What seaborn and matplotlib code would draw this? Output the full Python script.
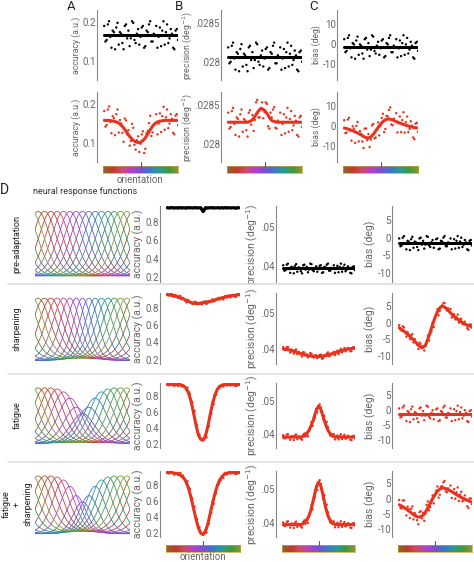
import numpy as np
import pandas as pd
import seaborn as sns
import matplotlib.pyplot as plt
from matplotlib.colors import LinearSegmentedColormap

sns.set_style('white')
plt.rcParams['font.family'] = ['Roboto', 'DejaVu Sans']
TXT = '#666666'

# ---- data ----
orient = list(range(-90, 91, 6))          # 31 orientations for the fits
orient_b = [o + 3 for o in orient]         # second set of sample orientations
resid_a = [0.6, -0.3, 0.9, -0.8, 0.2, 0.5, -0.6, 0.1, -0.9, 0.7, 0.3, -0.2, 0.8, -0.5, 0.4, -0.1,
           0.6, -0.7, 0.2, 0.9, -0.4, 0.0, -0.8, 0.5, 0.3, -0.6, 0.7, -0.2, 0.1, -0.9, 0.4]
resid_b = [-0.4, 0.7, -0.1, 0.3, -0.9, 0.8, 0.2, -0.5, 0.6, -0.2, -0.7, 0.9, -0.3, 0.1, -0.6, 0.5,
           -0.8, 0.3, 0.7, -0.4, 0.1, 0.6, -0.1, -0.7, 0.9, 0.2, -0.5, 0.4, -0.8, 0.3, -0.3]

# top panels (A, B, C): baseline fit and adapted fit
acc_top_pre = [0.165] * 31
acc_top_ad = [.157, .157, .157, .156, .155, .153, .150, .145, .138, .129, .120, .112, .106, .102, .100, .101,
              .105, .112, .122, .133, .142, .149, .153, .155, .156, .157, .157, .157, .157, .157, .157]
prec_top_pre = [0.02807] * 31
prec_top_ad = [.02828, .02828, .02828, .02828, .02828, .02828, .02828, .02828, .02828, .02829, .02831,
               .02835, .02840, .02844, .02845, .02843, .02839, .02834, .02830, .02829, .02828, .02828,
               .02828, .02828, .02828, .02828, .02828, .02828, .02828, .02828, .02828]
bias_top_pre = [-1.5] * 31
bias_top_ad = [-1.0, -1.3, -1.7, -2.1, -2.6, -3.2, -3.8, -4.5, -5.2, -5.8, -6.0, -5.5, -4.2, -2.5, -0.8, 0.8,
               2.2, 3.1, 3.5, 3.4, 3.0, 2.5, 2.0, 1.5, 1.0, 0.6, 0.2, -0.2, -0.5, -0.8, -1.0]
top_noise = [0.04, 0.04, 0.0002, 0.0002, 6.5, 6.5]

# bottom panels (D): rows pre-adaptation, sharpening, fatigue, fatigue + sharpening
acc_pre = [0.95] * 15 + [0.91] + [0.95] * 15
acc_sharp = [.95, .95, .94, .94, .93, .92, .91, .90, .88, .87, .86, .85, .85, .85, .85, .86,
             .86, .87, .87, .88, .89, .90, .91, .91, .92, .93, .93, .94, .94, .95, .95]
acc_fat = [.95, .95, .95, .95, .95, .95, .94, .93, .90, .84, .74, .60, .45, .32, .26, .25,
           .30, .42, .57, .71, .82, .89, .93, .94, .95, .95, .95, .95, .95, .95, .95]
acc_fs = [.95, .95, .95, .94, .94, .93, .91, .88, .83, .75, .64, .51, .38, .27, .20, .18,
          .22, .31, .44, .57, .69, .79, .86, .90, .93, .94, .95, .95, .95, .95, .95]
prec_pre = [0.0393] * 31
prec_sharp = [.0400, .0399, .0398, .0396, .0394, .0392, .0390, .0388, .0386, .0384, .0382, .0381, .0380,
              .0380, .0379, .0379, .0379, .0380, .0381, .0383, .0385, .0387, .0389, .0391, .0393, .0395,
              .0397, .0399, .0400, .0401, .0402]
prec_fat = [.0391, .0391, .0391, .0391, .0391, .0391, .0391, .0391, .0392, .0395, .0401, .0412, .0428,
            .0448, .0472, .0485, .0475, .0452, .0430, .0412, .0400, .0394, .0392, .0391, .0391, .0391,
            .0391, .0391, .0391, .0391, .0391]
prec_fs = [.0395, .0395, .0395, .0395, .0395, .0395, .0395, .0395, .0396, .0400, .0408, .0422, .0444,
           .0475, .0505, .0522, .0510, .0480, .0447, .0422, .0406, .0398, .0396, .0395, .0395, .0395,
           .0395, .0395, .0395, .0395, .0395]
bias_pre = [-1.5] * 31
bias_sharp = [-1.5, -2.0, -2.6, -3.2, -3.8, -4.5, -5.2, -6.0, -6.8, -7.4, -7.5, -6.8, -5.0, -2.8, -0.5, 1.6,
              3.3, 4.5, 5.0, 4.8, 4.2, 3.4, 2.6, 1.9, 1.3, 0.8, 0.3, -0.2, -0.6, -0.9, -1.1]
bias_fat = [-1.2] * 31
bias_fs = [-2.0, -2.4, -2.9, -3.4, -4.0, -4.6, -5.2, -5.7, -6.0, -5.9, -5.4, -4.4, -3.0, -1.5, 0.0, 1.3,
           2.4, 3.1, 3.5, 3.4, 3.1, 2.7, 2.3, 1.8, 1.3, 0.8, 0.4, 0.0, -0.4, -0.7, -1.0]
bot_noise = {'acc': [0.008, 0.02, 0.02, 0.02], 'prec': [0.0014, 0.0008, 0.0010, 0.0011],
             'bias': [2.2, 1.3, 3.0, 2.6]}
bot_colors = ['black', '#e8321e', '#e8321e', '#e8321e']

# neural response functions: preferred orientation, gain and width per neuron
pref = list(range(-84, 90, 12))  # 15 neurons
gain = {'pre': [1.0] * 15,
        'sharp': [1.0] * 15,
        'fat': [1.0, 1.0, 1.0, 0.98, 0.93, 0.82, 0.66, 0.55, 0.66, 0.82, 0.93, 0.98, 1.0, 1.0, 1.0],
        'fs': [1.0, 1.0, 1.0, 0.98, 0.93, 0.82, 0.66, 0.55, 0.66, 0.82, 0.93, 0.98, 1.0, 1.0, 1.0]}
kappa = {'pre': [1.6] * 15,
         'sharp': [1.6, 1.6, 1.7, 1.8, 2.0, 2.3, 2.6, 2.8, 2.6, 2.3, 2.0, 1.8, 1.7, 1.6, 1.6],
         'fat': [1.6] * 15,
         'fs': [1.6, 1.6, 1.7, 1.8, 2.0, 2.3, 2.6, 2.8, 2.6, 2.3, 2.0, 1.8, 1.7, 1.6, 1.6]}
row_names = ['pre-adaptation', 'sharpening', 'fatigue', 'fatigue\n+\nsharpening']

ori_cmap = LinearSegmentedColormap.from_list(
    'ori', ['#8a6a2a', '#c0392b', '#d04a6a', '#b040d0', '#7a50d0', '#3a78c8', '#2a9a9a', '#3a9a3a', '#8a9a30'])

W, H = 474, 562
fig = plt.figure(figsize=(W / 100, H / 100), dpi=100)


def ax_px(x0, y0, x1, y1):
    return fig.add_axes([x0 / W, 1 - y1 / H, (x1 - x0) / W, (y1 - y0) / H])


def style(ax, ylim, yticks, ticklabels, ylabel, labsize=7.5):
    ax.set_xlim(-93, 93)
    ax.set_ylim(*ylim)
    ax.set_yticks(yticks)
    ax.set_yticklabels(ticklabels)
    ax.set_xticks([])
    sns.despine(ax=ax, bottom=True)
    ax.spines['left'].set_color('#888888')
    ax.spines['left'].set_position(('outward', 4))
    ax.tick_params(axis='y', colors=TXT, labelsize=7, length=2, pad=1, direction='in')
    ax.set_ylabel(ylabel, color=TXT, fontsize=labsize, labelpad=1)
    ax.patch.set_alpha(0)


def data_panel(ax, fit, scale, color):
    pts = pd.DataFrame({'x': orient + orient_b,
                        'y': [f + r * scale for f, r in zip(fit, resid_a)] +
                             [f + r * scale for f, r in zip(fit, resid_b)]})
    sns.scatterplot(data=pts, x='x', y='y', ax=ax, s=3, color=color, edgecolor='none', legend=False)
    sns.lineplot(x=orient, y=fit, ax=ax, color=color, lw=2.2)
    ax.set_xlabel('')


def colorbar(x0, x1, y0):
    cax = ax_px(x0, y0, x1, y0 + 7)
    cax.imshow(np.linspace(0, 1, 256)[None, :], cmap=ori_cmap, aspect='auto')
    cax.set_xticks([]); cax.set_yticks([])
    for s in cax.spines.values():
        s.set_color('#c8a040'); s.set_linewidth(0.5)
    xm = (x0 + x1) / 2
    fig.lines.append(plt.Line2D([xm / W, xm / W], [1 - (y0 - 4) / H, 1 - y0 / H],
                                color='#5050a0', lw=0.8, transform=fig.transFigure))


# ---- top panels ----
acc_lab, prec_lab, bias_lab = 'accuracy (a.u.)', 'precision (deg$^{-1}$)', 'bias (deg)'
top_cols = [(103, 178), (227, 302), (343, 418)]
top_rows = [(10, 80), (92, 162)]
top_fits = [[acc_top_pre, acc_top_ad], [prec_top_pre, prec_top_ad], [bias_top_pre, bias_top_ad]]
top_axis = [((0.05, 0.23), [0.1, 0.2], ['0.1', '0.2'], acc_lab),
            ((0.02778, 0.02866), [0.028, 0.0285], ['.028', '.0285'], prec_lab),
            ((-18, 17), [-10, 0, 10], ['-10', '0', '10'], bias_lab)]
letter_x = [67, 175, 309]
for c, ((x0, x1), fits, spec) in enumerate(zip(top_cols, top_fits, top_axis)):
    for r, (y0, y1) in enumerate(top_rows):
        ax = ax_px(x0, y0, x1, y1)
        data_panel(ax, fits[r], top_noise[2 * c + r], 'black' if r == 0 else '#e8321e')
        style(ax, *spec, labsize=6.3)
    colorbar(x0, x1, 166)
    fig.text(letter_x[c] / W, 1 - 0 / H, 'ABC'[c], fontsize=9.5, color='#222222', va='top')
fig.text(140 / W, 1 - 180 / H, 'orientation', ha='center', va='center', fontsize=7, color=TXT)

# ---- bottom panels ----
fig.text(0 / W, 1 - 190 / H, 'D', fontsize=10, color='#222222', va='center')
fig.text(33 / W, 1 - 191 / H, 'neural response functions', fontsize=6.5, color='#333333', va='center')
bot_rows = [(203, 290), (290, 372), (380, 456), (468, 545)]
keys = ['pre', 'sharp', 'fat', 'fs']
acc_fits = [acc_pre, acc_sharp, acc_fat, acc_fs]
prec_fits = [prec_pre, prec_sharp, prec_fat, prec_fs]
bias_fits = [bias_pre, bias_sharp, bias_fat, bias_fs]
theta = np.linspace(-90, 90, 181)
for r, (y0, y1) in enumerate(bot_rows):
    ya, yb = y0 + 3, y1 - 8
    # tuning curves
    tax = ax_px(35, ya + 2, 130, yb - 2)
    for i, p in enumerate(pref):
        col = ori_cmap(i / (len(pref) - 1))
        resp = gain[keys[r]][i] * np.exp(kappa[keys[r]][i] * (np.cos(np.deg2rad(2 * (theta - p))) - 1))
        for sh in (-180, 0, 180):
            sns.lineplot(x=theta + sh, y=resp, ax=tax, color=col, lw=0.6)
    tax.set_xlim(-90, 90); tax.set_ylim(-0.02, 1.05); tax.axis('off')
    fig.text(17 / W, 1 - (ya + yb) / 2 / H, row_names[r], rotation=90,
             ha='center', va='center', fontsize=6.5, color='#222222', linespacing=1.3,
             multialignment='center')
    col = bot_colors[r]
    ax = ax_px(166, ya, 240, yb)
    data_panel(ax, acc_fits[r], bot_noise['acc'][r], col)
    style(ax, (0.15, 0.97), [0.2, 0.4, 0.6, 0.8], ['0.2', '0.4', '0.6', '0.8'], acc_lab)
    ax = ax_px(282, ya, 355, yb)
    data_panel(ax, prec_fits[r], bot_noise['prec'][r], col)
    style(ax, (0.0358, 0.0555), [0.04, 0.05], ['.04', '.05'], prec_lab)
    ax = ax_px(398, ya, 472, yb)
    data_panel(ax, bias_fits[r], bot_noise['bias'][r], col)
    style(ax, (-12.5, 9), [-10, -5, 0, 5], ['-10', '-5', '0', '5'], bias_lab)
    if r > 0:
        fig.lines.append(plt.Line2D([8 / W, 1], [1 - (y0 - 6) / H] * 2, color='#dddddd', lw=1.2,
                                    transform=fig.transFigure))
for x0, x1 in [(166, 240), (282, 355), (398, 472)]:
    colorbar(x0, x1, 545)
fig.text(203 / W, 1 - 557 / H, 'orientation', ha='center', va='center', fontsize=7, color=TXT)

fig.savefig('out.png', dpi=100)
